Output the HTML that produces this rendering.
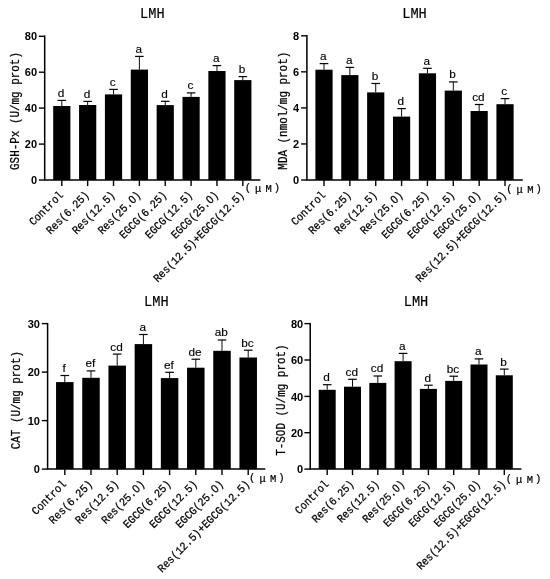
<!DOCTYPE html>
<html lang="en"><head><meta charset="utf-8"><title>LMH</title>
<style>
html,body{margin:0;padding:0;background:#fff}
svg{display:block}
text{fill:#000}
.m{font-family:"Liberation Mono",monospace;stroke:#000}
.ti{font-size:15px;text-anchor:middle;stroke-width:.2px}
.yl{font-size:12px;text-anchor:middle;stroke-width:.25px}
.xl{font-size:11.4px;text-anchor:end;stroke-width:.25px}
.um{font-size:10.5px;stroke-width:.2px}
.z{font-family:"Liberation Sans",sans-serif}
.lt{font-family:"Liberation Sans",sans-serif;font-size:11.8px;text-anchor:middle;stroke:#000;stroke-width:.15px}
.tk{font-family:"Liberation Sans",sans-serif;font-weight:bold;font-size:11px;text-anchor:end}
.ax{fill:none;stroke:#000;stroke-width:1.5px}
.tl{fill:none;stroke:#000;stroke-width:1.4px}
.ev{fill:none;stroke:#000;stroke-width:.95px}
.ec{fill:none;stroke:#000;stroke-width:1.2px}
</style></head>
<body>
<svg width="550" height="579" viewBox="0 0 550 579">
<rect width="550" height="579" fill="#fff"/>
<g>
<text class="m ti" transform="translate(152.3,18.4) scale(0.911,1)">LMH</text>
<text class="m yl" transform="translate(18.5,111) rotate(-90) scale(0.91,1)">GSH-Px (U/mg prot)</text>
<rect x="53.20" y="106.00" width="17.2" height="74.00"/>
<path class="ev" d="M61.80 106.00V100.40"/><path class="ec" d="M57.50 100.40H66.10"/>
<text class="lt" x="61.10" y="96.80">d</text>
<path class="tl" d="M61.80 180.00V186.00"/>
<text class="m xl" transform="translate(63.90,195.60) rotate(-45) scale(0.9018,1)">Control</text>
<rect x="79.06" y="105.00" width="17.2" height="75.00"/>
<path class="ev" d="M87.66 105.00V101.40"/><path class="ec" d="M83.36 101.40H91.96"/>
<text class="lt" x="86.96" y="97.80">d</text>
<path class="tl" d="M87.66 180.00V186.00"/>
<text class="m xl" transform="translate(89.76,195.60) rotate(-45) scale(0.9018,1)">Res(6.25)</text>
<rect x="104.92" y="94.40" width="17.2" height="85.60"/>
<path class="ev" d="M113.52 94.40V89.40"/><path class="ec" d="M109.22 89.40H117.82"/>
<text class="lt" x="112.82" y="85.80">c</text>
<path class="tl" d="M113.52 180.00V186.00"/>
<text class="m xl" transform="translate(115.62,195.60) rotate(-45) scale(0.9018,1)">Res(12.5)</text>
<rect x="130.78" y="69.60" width="17.2" height="110.40"/>
<path class="ev" d="M139.38 69.60V56.40"/><path class="ec" d="M135.08 56.40H143.68"/>
<text class="lt" x="138.68" y="52.80">a</text>
<path class="tl" d="M139.38 180.00V186.00"/>
<text class="m xl" transform="translate(141.48,195.60) rotate(-45) scale(0.9018,1)">Res(25.<tspan class="z" dx="0.26">0</tspan><tspan dx="0.27">)</tspan></text>
<rect x="156.64" y="105.10" width="17.2" height="74.90"/>
<path class="ev" d="M165.24 105.10V101.30"/><path class="ec" d="M160.94 101.30H169.54"/>
<text class="lt" x="164.54" y="97.70">d</text>
<path class="tl" d="M165.24 180.00V186.00"/>
<text class="m xl" transform="translate(167.34,195.60) rotate(-45) scale(0.9018,1)">EGCG(6.25)</text>
<rect x="182.50" y="96.90" width="17.2" height="83.10"/>
<path class="ev" d="M191.10 96.90V92.90"/><path class="ec" d="M186.80 92.90H195.40"/>
<text class="lt" x="190.40" y="89.30">c</text>
<path class="tl" d="M191.10 180.00V186.00"/>
<text class="m xl" transform="translate(193.20,195.60) rotate(-45) scale(0.9018,1)">EGCG(12.5)</text>
<rect x="208.36" y="71.00" width="17.2" height="109.00"/>
<path class="ev" d="M216.96 71.00V65.60"/><path class="ec" d="M212.66 65.60H221.26"/>
<text class="lt" x="216.26" y="62.00">a</text>
<path class="tl" d="M216.96 180.00V186.00"/>
<text class="m xl" transform="translate(219.06,195.60) rotate(-45) scale(0.9018,1)">EGCG(25.<tspan class="z" dx="0.26">0</tspan><tspan dx="0.27">)</tspan></text>
<rect x="234.22" y="80.10" width="17.2" height="99.90"/>
<path class="ev" d="M242.82 80.10V76.60"/><path class="ec" d="M238.52 76.60H247.12"/>
<text class="lt" x="242.12" y="73.00">b</text>
<path class="tl" d="M242.82 180.00V186.00"/>
<text class="m xl" transform="translate(244.92,195.60) rotate(-45) scale(0.9018,1)">Res(12.5)+EGCG(12.5)</text>
<path class="ax" d="M44.7 35.60V180.0H260.4"/>
<path class="tl" d="M38.90 36.3H44.7"/>
<text class="tk" x="37.10" y="40.40">80</text>
<path class="tl" d="M38.90 72.2H44.7"/>
<text class="tk" x="37.10" y="76.30">60</text>
<path class="tl" d="M38.90 108.1H44.7"/>
<text class="tk" x="37.10" y="112.20">40</text>
<path class="tl" d="M38.90 144.1H44.7"/>
<text class="tk" x="37.10" y="148.20">20</text>
<path class="tl" d="M38.90 180.0H44.7"/>
<text class="tk" x="37.10" y="184.10">0</text>
<text class="m um"><tspan x="244.65" y="191.20">(</tspan><tspan x="255.00" y="192.20">μ</tspan><tspan x="265.60" y="192.20">M</tspan><tspan x="273.80" y="191.20">)</tspan></text>
</g>
<g>
<text class="m ti" transform="translate(414.5,18.4) scale(0.911,1)">LMH</text>
<text class="m yl" transform="translate(286.7,110.7) rotate(-90) scale(0.91,1)">MDA (nmol/mg prot)</text>
<rect x="315.40" y="69.70" width="17.2" height="110.30"/>
<path class="ev" d="M324.00 69.70V63.60"/><path class="ec" d="M319.70 63.60H328.30"/>
<text class="lt" x="323.30" y="60.00">a</text>
<path class="tl" d="M324.00 180.00V186.00"/>
<text class="m xl" transform="translate(326.10,195.60) rotate(-45) scale(0.9018,1)">Control</text>
<rect x="341.26" y="75.10" width="17.2" height="104.90"/>
<path class="ev" d="M349.86 75.10V67.40"/><path class="ec" d="M345.56 67.40H354.16"/>
<text class="lt" x="349.16" y="63.80">a</text>
<path class="tl" d="M349.86 180.00V186.00"/>
<text class="m xl" transform="translate(351.96,195.60) rotate(-45) scale(0.9018,1)">Res(6.25)</text>
<rect x="367.12" y="92.40" width="17.2" height="87.60"/>
<path class="ev" d="M375.72 92.40V83.50"/><path class="ec" d="M371.42 83.50H380.02"/>
<text class="lt" x="375.02" y="79.90">b</text>
<path class="tl" d="M375.72 180.00V186.00"/>
<text class="m xl" transform="translate(377.82,195.60) rotate(-45) scale(0.9018,1)">Res(12.5)</text>
<rect x="392.98" y="116.60" width="17.2" height="63.40"/>
<path class="ev" d="M401.58 116.60V108.60"/><path class="ec" d="M397.28 108.60H405.88"/>
<text class="lt" x="400.88" y="105.00">d</text>
<path class="tl" d="M401.58 180.00V186.00"/>
<text class="m xl" transform="translate(403.68,195.60) rotate(-45) scale(0.9018,1)">Res(25.<tspan class="z" dx="0.26">0</tspan><tspan dx="0.27">)</tspan></text>
<rect x="418.84" y="73.30" width="17.2" height="106.70"/>
<path class="ev" d="M427.44 73.30V68.30"/><path class="ec" d="M423.14 68.30H431.74"/>
<text class="lt" x="426.74" y="64.70">a</text>
<path class="tl" d="M427.44 180.00V186.00"/>
<text class="m xl" transform="translate(429.54,195.60) rotate(-45) scale(0.9018,1)">EGCG(6.25)</text>
<rect x="444.70" y="90.60" width="17.2" height="89.40"/>
<path class="ev" d="M453.30 90.60V81.90"/><path class="ec" d="M449.00 81.90H457.60"/>
<text class="lt" x="452.60" y="78.30">b</text>
<path class="tl" d="M453.30 180.00V186.00"/>
<text class="m xl" transform="translate(455.40,195.60) rotate(-45) scale(0.9018,1)">EGCG(12.5)</text>
<rect x="470.56" y="111.00" width="17.2" height="69.00"/>
<path class="ev" d="M479.16 111.00V104.50"/><path class="ec" d="M474.86 104.50H483.46"/>
<text class="lt" x="478.46" y="100.90">cd</text>
<path class="tl" d="M479.16 180.00V186.00"/>
<text class="m xl" transform="translate(481.26,195.60) rotate(-45) scale(0.9018,1)">EGCG(25.<tspan class="z" dx="0.26">0</tspan><tspan dx="0.27">)</tspan></text>
<rect x="496.42" y="104.20" width="17.2" height="75.80"/>
<path class="ev" d="M505.02 104.20V98.60"/><path class="ec" d="M500.72 98.60H509.32"/>
<text class="lt" x="504.32" y="95.00">c</text>
<path class="tl" d="M505.02 180.00V186.00"/>
<text class="m xl" transform="translate(507.12,195.60) rotate(-45) scale(0.9018,1)">Res(12.5)+EGCG(12.5)</text>
<path class="ax" d="M306.9 35.10V180.0H522.8"/>
<path class="tl" d="M301.10 35.8H306.9"/>
<text class="tk" x="299.15" y="39.90">8</text>
<path class="tl" d="M301.10 71.85H306.9"/>
<text class="tk" x="299.15" y="75.95">6</text>
<path class="tl" d="M301.10 107.9H306.9"/>
<text class="tk" x="299.15" y="112.00">4</text>
<path class="tl" d="M301.10 143.95H306.9"/>
<text class="tk" x="299.15" y="148.05">2</text>
<path class="tl" d="M301.10 180.0H306.9"/>
<text class="tk" x="299.15" y="184.10">0</text>
<text class="m um"><tspan x="506.25" y="192.10">(</tspan><tspan x="516.60" y="193.10">μ</tspan><tspan x="527.20" y="193.10">M</tspan><tspan x="535.40" y="192.10">)</tspan></text>
</g>
<g>
<text class="m ti" transform="translate(156.3,306.0) scale(0.911,1)">LMH</text>
<text class="m yl" transform="translate(20.4,400.1) rotate(-90) scale(0.91,1)">CAT (U/mg prot)</text>
<rect x="56.05" y="382.10" width="17.5" height="87.00"/>
<path class="ev" d="M64.80 382.10V375.50"/><path class="ec" d="M60.50 375.50H69.10"/>
<text class="lt" x="64.10" y="371.90">f</text>
<path class="tl" d="M64.80 469.10V475.10"/>
<text class="m xl" transform="translate(66.90,484.70) rotate(-45) scale(0.9137,1)">Control</text>
<rect x="82.25" y="377.80" width="17.5" height="91.30"/>
<path class="ev" d="M91.00 377.80V370.90"/><path class="ec" d="M86.70 370.90H95.30"/>
<text class="lt" x="90.30" y="367.30">ef</text>
<path class="tl" d="M91.00 469.10V475.10"/>
<text class="m xl" transform="translate(93.10,484.70) rotate(-45) scale(0.9137,1)">Res(6.25)</text>
<rect x="108.45" y="365.60" width="17.5" height="103.50"/>
<path class="ev" d="M117.20 365.60V354.10"/><path class="ec" d="M112.90 354.10H121.50"/>
<text class="lt" x="116.50" y="350.50">cd</text>
<path class="tl" d="M117.20 469.10V475.10"/>
<text class="m xl" transform="translate(119.30,484.70) rotate(-45) scale(0.9137,1)">Res(12.5)</text>
<rect x="134.65" y="344.10" width="17.5" height="125.00"/>
<path class="ev" d="M143.40 344.10V334.50"/><path class="ec" d="M139.10 334.50H147.70"/>
<text class="lt" x="142.70" y="330.90">a</text>
<path class="tl" d="M143.40 469.10V475.10"/>
<text class="m xl" transform="translate(145.50,484.70) rotate(-45) scale(0.9137,1)">Res(25.<tspan class="z" dx="0.26">0</tspan><tspan dx="0.27">)</tspan></text>
<rect x="160.85" y="378.10" width="17.5" height="91.00"/>
<path class="ev" d="M169.60 378.10V372.30"/><path class="ec" d="M165.30 372.30H173.90"/>
<text class="lt" x="168.90" y="368.70">ef</text>
<path class="tl" d="M169.60 469.10V475.10"/>
<text class="m xl" transform="translate(171.70,484.70) rotate(-45) scale(0.9137,1)">EGCG(6.25)</text>
<rect x="187.05" y="367.70" width="17.5" height="101.40"/>
<path class="ev" d="M195.80 367.70V359.20"/><path class="ec" d="M191.50 359.20H200.10"/>
<text class="lt" x="195.10" y="355.60">de</text>
<path class="tl" d="M195.80 469.10V475.10"/>
<text class="m xl" transform="translate(197.90,484.70) rotate(-45) scale(0.9137,1)">EGCG(12.5)</text>
<rect x="213.25" y="350.80" width="17.5" height="118.30"/>
<path class="ev" d="M222.00 350.80V340.00"/><path class="ec" d="M217.70 340.00H226.30"/>
<text class="lt" x="221.30" y="336.40">ab</text>
<path class="tl" d="M222.00 469.10V475.10"/>
<text class="m xl" transform="translate(224.10,484.70) rotate(-45) scale(0.9137,1)">EGCG(25.<tspan class="z" dx="0.26">0</tspan><tspan dx="0.27">)</tspan></text>
<rect x="239.45" y="357.50" width="17.5" height="111.60"/>
<path class="ev" d="M248.20 357.50V350.20"/><path class="ec" d="M243.90 350.20H252.50"/>
<text class="lt" x="247.50" y="346.60">bc</text>
<path class="tl" d="M248.20 469.10V475.10"/>
<text class="m xl" transform="translate(250.30,484.70) rotate(-45) scale(0.9137,1)">Res(12.5)+EGCG(12.5)</text>
<path class="ax" d="M47.6 322.90V469.1H265.3"/>
<path class="tl" d="M41.80 323.6H47.6"/>
<text class="tk" x="39.90" y="327.70">30</text>
<path class="tl" d="M41.80 372.1H47.6"/>
<text class="tk" x="39.90" y="376.20">20</text>
<path class="tl" d="M41.80 420.6H47.6"/>
<text class="tk" x="39.90" y="424.70">10</text>
<path class="tl" d="M41.80 469.1H47.6"/>
<text class="tk" x="39.90" y="473.20">0</text>
<text class="m um"><tspan x="249.05" y="481.20">(</tspan><tspan x="259.40" y="482.20">μ</tspan><tspan x="270.00" y="482.20">M</tspan><tspan x="278.20" y="481.20">)</tspan></text>
</g>
<g>
<text class="m ti" transform="translate(416.0,306.0) scale(0.911,1)">LMH</text>
<text class="m yl" transform="translate(284.9,400.1) rotate(-90) scale(0.91,1)">T-SOD (U/mg prot)</text>
<rect x="318.70" y="389.80" width="17.0" height="79.30"/>
<path class="ev" d="M327.20 389.80V384.70"/><path class="ec" d="M322.90 384.70H331.50"/>
<text class="lt" x="326.50" y="381.10">d</text>
<path class="tl" d="M327.20 469.10V475.10"/>
<text class="m xl" transform="translate(329.30,484.70) rotate(-45) scale(0.8845,1)">Control</text>
<rect x="344.00" y="386.70" width="17.0" height="82.40"/>
<path class="ev" d="M352.50 386.70V379.30"/><path class="ec" d="M348.20 379.30H356.80"/>
<text class="lt" x="351.80" y="375.70">cd</text>
<path class="tl" d="M352.50 469.10V475.10"/>
<text class="m xl" transform="translate(354.60,484.70) rotate(-45) scale(0.8845,1)">Res(6.25)</text>
<rect x="369.30" y="382.90" width="17.0" height="86.20"/>
<path class="ev" d="M377.80 382.90V376.00"/><path class="ec" d="M373.50 376.00H382.10"/>
<text class="lt" x="377.10" y="372.40">cd</text>
<path class="tl" d="M377.80 469.10V475.10"/>
<text class="m xl" transform="translate(379.90,484.70) rotate(-45) scale(0.8845,1)">Res(12.5)</text>
<rect x="394.60" y="361.20" width="17.0" height="107.90"/>
<path class="ev" d="M403.10 361.20V353.40"/><path class="ec" d="M398.80 353.40H407.40"/>
<text class="lt" x="402.40" y="349.80">a</text>
<path class="tl" d="M403.10 469.10V475.10"/>
<text class="m xl" transform="translate(405.20,484.70) rotate(-45) scale(0.8845,1)">Res(25.<tspan class="z" dx="0.26">0</tspan><tspan dx="0.27">)</tspan></text>
<rect x="419.90" y="388.90" width="17.0" height="80.20"/>
<path class="ev" d="M428.40 388.90V385.20"/><path class="ec" d="M424.10 385.20H432.70"/>
<text class="lt" x="427.70" y="381.60">d</text>
<path class="tl" d="M428.40 469.10V475.10"/>
<text class="m xl" transform="translate(430.50,484.70) rotate(-45) scale(0.8845,1)">EGCG(6.25)</text>
<rect x="445.20" y="380.90" width="17.0" height="88.20"/>
<path class="ev" d="M453.70 380.90V376.20"/><path class="ec" d="M449.40 376.20H458.00"/>
<text class="lt" x="453.00" y="372.60">bc</text>
<path class="tl" d="M453.70 469.10V475.10"/>
<text class="m xl" transform="translate(455.80,484.70) rotate(-45) scale(0.8845,1)">EGCG(12.5)</text>
<rect x="470.50" y="364.50" width="17.0" height="104.60"/>
<path class="ev" d="M479.00 364.50V358.90"/><path class="ec" d="M474.70 358.90H483.30"/>
<text class="lt" x="478.30" y="355.30">a</text>
<path class="tl" d="M479.00 469.10V475.10"/>
<text class="m xl" transform="translate(481.10,484.70) rotate(-45) scale(0.8845,1)">EGCG(25.<tspan class="z" dx="0.26">0</tspan><tspan dx="0.27">)</tspan></text>
<rect x="495.80" y="375.30" width="17.0" height="93.80"/>
<path class="ev" d="M504.30 375.30V369.10"/><path class="ec" d="M500.00 369.10H508.60"/>
<text class="lt" x="503.60" y="365.50">b</text>
<path class="tl" d="M504.30 469.10V475.10"/>
<text class="m xl" transform="translate(506.40,484.70) rotate(-45) scale(0.8845,1)">Res(12.5)+EGCG(12.5)</text>
<path class="ax" d="M310.2 322.90V469.1H521.4"/>
<path class="tl" d="M304.40 323.6H310.2"/>
<text class="tk" x="303.20" y="327.70">80</text>
<path class="tl" d="M304.40 360.0H310.2"/>
<text class="tk" x="303.20" y="364.10">60</text>
<path class="tl" d="M304.40 396.4H310.2"/>
<text class="tk" x="303.20" y="400.50">40</text>
<path class="tl" d="M304.40 432.7H310.2"/>
<text class="tk" x="303.20" y="436.80">20</text>
<path class="tl" d="M304.40 469.1H310.2"/>
<text class="tk" x="303.20" y="473.20">0</text>
<text class="m um"><tspan x="505.75" y="482.10">(</tspan><tspan x="516.10" y="483.10">μ</tspan><tspan x="526.70" y="483.10">M</tspan><tspan x="534.90" y="482.10">)</tspan></text>
</g>
</svg>
</body></html>
